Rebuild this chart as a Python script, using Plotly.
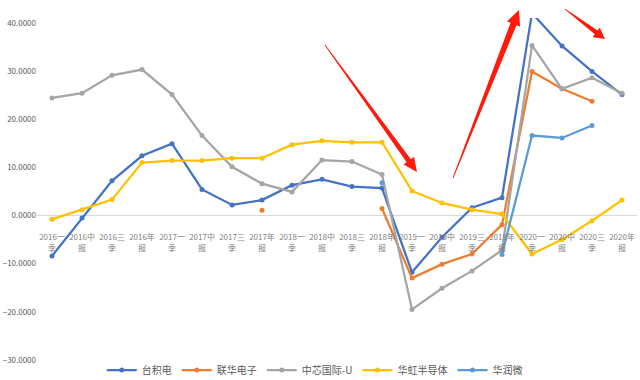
import plotly.graph_objects as go

categories = ['2016一季', '2016中报', '2016三季', '2016年报', '2017一季', '2017中报', '2017三季', '2017年报',
              '2018一季', '2018中报', '2018三季', '2018年报', '2019一季', '2019中报', '2019三季', '2019年报',
              '2020一季', '2020中报', '2020三季', '2020年报']
tick_labels = [c[:5] + '<br>' + c[5:] for c in categories]

tsmc = [-8.4, -0.5, 7.2, 12.4, 14.9, 5.4, 2.2, 3.2, 6.3, 7.5, 6.0, 5.7,
        -11.8, -4.5, 1.6, 3.7, 42.0, 35.2, 29.9, 25.1]
umc = [None, None, None, None, None, None, None, 1.1, None, None, None, 1.45,
       -13.0, -10.1, -8.0, -1.9, 29.9, 26.3, 23.7, None]
smic = [24.4, 25.4, 29.1, 30.3, 25.1, 16.6, 10.1, 6.6, 4.9, 11.5, 11.2, 8.5,
        -19.5, -15.1, -11.5, -7.2, 35.3, 26.3, 28.6, 25.4]
hhgrace = [-0.8, 1.2, 3.3, 11.0, 11.4, 11.4, 11.9, 11.9, 14.7, 15.5, 15.2, 15.2,
           5.1, 2.6, 1.2, 0.3, -8.0, -5.0, -1.1, 3.2]
crmicro = [None, None, None, None, None, None, None, None, None, None, None, 6.8,
           None, None, None, -8.1, 16.6, 16.1, 18.7, None]

series_names = ['台积电', '联华电子', '中芯国际-U', '华虹半导体', '华润微']
series_values = [tsmc, umc, smic, hhgrace, crmicro]
colors = ['#4472C4', '#ED7D31', '#A5A5A5', '#FFC000', '#5B9BD5']

W, H = 640, 380
L, R, T, B = 37, 3, 18, 0
y_lo, y_hi = -34.15, 41.0

fig = go.Figure()
for name, vals, col in zip(series_names, series_values, colors):
    fig.add_trace(go.Scatter(
        x=categories, y=vals, name=name, mode='lines+markers',
        line=dict(color=col, width=2.25), marker=dict(color=col, size=5),
        connectgaps=False,
    ))

pw, ph = W - L - R, H - T - B


def px2paper(px, py):
    return (px - L) / pw, (H - B - py) / ph


def arrow_path(x0, y0, x1, y1, neck_hw, head_hw, head_len, tail_hw=0.4):
    import math
    dx, dy = x1 - x0, y1 - y0
    ln = math.hypot(dx, dy)
    ux, uy = dx / ln, dy / ln
    nx, ny = -uy, ux
    bx, by = x1 - ux * head_len, y1 - uy * head_len
    pts = [
        (x0 + nx * tail_hw, y0 + ny * tail_hw),
        (bx + nx * neck_hw, by + ny * neck_hw),
        (bx + nx * head_hw, by + ny * head_hw),
        (x1, y1),
        (bx - nx * head_hw, by - ny * head_hw),
        (bx - nx * neck_hw, by - ny * neck_hw),
        (x0 - nx * tail_hw, y0 - ny * tail_hw),
    ]
    s = ''
    for i, (a, b) in enumerate(pts):
        xp, yp = px2paper(a, b)
        s += ('M' if i == 0 else 'L') + f'{xp:.5f},{yp:.5f} '
    return s + 'Z'


arrows = [
    (325, 45, 417, 172, 2.6, 6.5, 14),
    (453, 178, 519, 10, 3.2, 7.0, 15),
    (565, 9, 605, 39, 2.4, 6.0, 11),
]
for a in arrows:
    fig.add_shape(type='path', path=arrow_path(*a), xref='paper', yref='paper',
                  fillcolor='#FF1A0A', line=dict(width=0), layer='above')

fig.update_layout(
    width=W, height=H,
    margin=dict(l=L, r=R, t=T, b=B, autoexpand=False),
    paper_bgcolor='white', plot_bgcolor='white',
    font=dict(family='Noto Sans CJK SC, DejaVu Sans', color='#595959'),
    showlegend=True,
    legend=dict(orientation='h', x=0.463, xanchor='center', y=10 / ph, yanchor='middle',
                font=dict(size=10, color='#595959'), itemwidth=30, bgcolor='rgba(0,0,0,0)'),
    xaxis=dict(
        type='category', categoryorder='array', categoryarray=categories,
        tickmode='array', tickvals=categories, ticktext=tick_labels,
        range=[-0.5, len(categories) - 0.5],
        showgrid=False, zeroline=False, showline=False, ticks='',
        anchor='free', position=(0 - y_lo) / (y_hi - y_lo),
        tickfont=dict(size=8, color='#7f7f7f'), ticklabelstandoff=16,
    ),
    yaxis=dict(
        range=[y_lo, y_hi], tickmode='array',
        tickvals=[-30, -20, -10, 0, 10, 20, 30, 40],
        tickformat='.4f', showgrid=False,
        zeroline=True, zerolinecolor='#d9d9d9', zerolinewidth=1,
        showline=False, ticks='', tickfont=dict(size=8, color='#595959'),
    ),
)

fig.write_html('out.html')
